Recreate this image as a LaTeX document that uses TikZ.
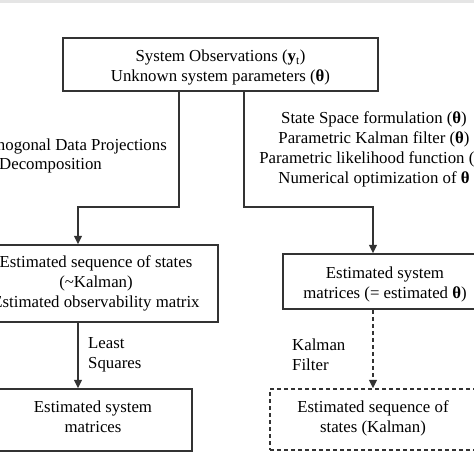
\documentclass[tikz,border=0pt]{standalone}
\usepackage{fontspec}
\setmainfont{Liberation Serif}
\usetikzlibrary{arrows.meta}
\begin{document}
\begin{tikzpicture}[x=1pt,y=-1pt,
  font=\fontsize{16.8}{20}\selectfont,
  box/.style={draw=black!80, line width=1.5pt, inner sep=0pt},
  lbl/.style={inner sep=0pt, align=center},
  arr/.style={-{Triangle[width=8pt,length=8.5pt]}, draw=black!80, line width=1.5pt},
  dsh/.style={dash pattern=on 4pt off 3pt}]
\useasboundingbox (0,0) rectangle (474,474);
\fill[black!10] (0,0) rectangle (474,2.5);
\clip (0,0) rectangle (474,474);

% boxes
\node[box, minimum width=315pt, minimum height=53pt] (top) at (220.5,64.5) {};
\node[box, minimum width=244pt, minimum height=77pt] (lm) at (96,283.5) {};
\node[box, minimum width=204pt, minimum height=55pt] (rm) at (385,281.5) {};
\node[box, minimum width=198pt, minimum height=62pt] (lb) at (93,420) {};
\node[box, dsh, minimum width=206pt, minimum height=61pt] (rb) at (373,419.5) {};

% box texts
\node[lbl] (topt) at (220.5,67.5)
  {System Observations (\textbf{y}\textsubscript{t})\\Unknown system parameters (\textbf{θ})};
\node[lbl] (lmt) at (96,283.5)
  {Estimated sequence of states\\(\textasciitilde Kalman)\\Estimated observability matrix};
\node[lbl] (rmt) at (385,284.5)
  {Estimated system\\matrices (= estimated \textbf{θ})};
\node[lbl] (lbt) at (93,417)
  {Estimated system\\matrices};
\node[lbl] (rbt) at (373,418.5)
  {Estimated sequence of\\states (Kalman)};

% edge labels
\node[lbl, anchor=east] (ortho) at (167,146) {Orthogonal Data Projections};
\node[lbl, anchor=west] (decomp) at (-1,165.5) {Decomposition};
\node[lbl] (ss) at (374,149.5)
  {State Space formulation (\textbf{θ})\\Parametric Kalman filter (\textbf{θ})\\Parametric likelihood function (\textbf{θ})\\Numerical optimization of \textbf{θ}};
\node[lbl, align=left, anchor=west] (ls) at (88,354.5) {Least\\Squares};
\node[lbl, align=left, anchor=west] (kf) at (292,354.5) {Kalman\\Filter};

% connectors
\coordinate (j1) at (179,207);
\coordinate (a1) at (78,207);
\coordinate (j2) at (244,207);
\coordinate (a2) at (373,207);

\draw[arr] (top.south -| j1) -- (j1) -- (a1) -- (lm.north -| a1);
\draw[arr] (top.south -| j2) -- (j2) -- (a2) -- (rm.north -| a2);
\draw[arr] (lm.south -| a1) -- (lb.north -| a1);
\draw[arr, dsh] (rm.south -| a2) -- (rb.north -| a2);
\end{tikzpicture}
\end{document}
